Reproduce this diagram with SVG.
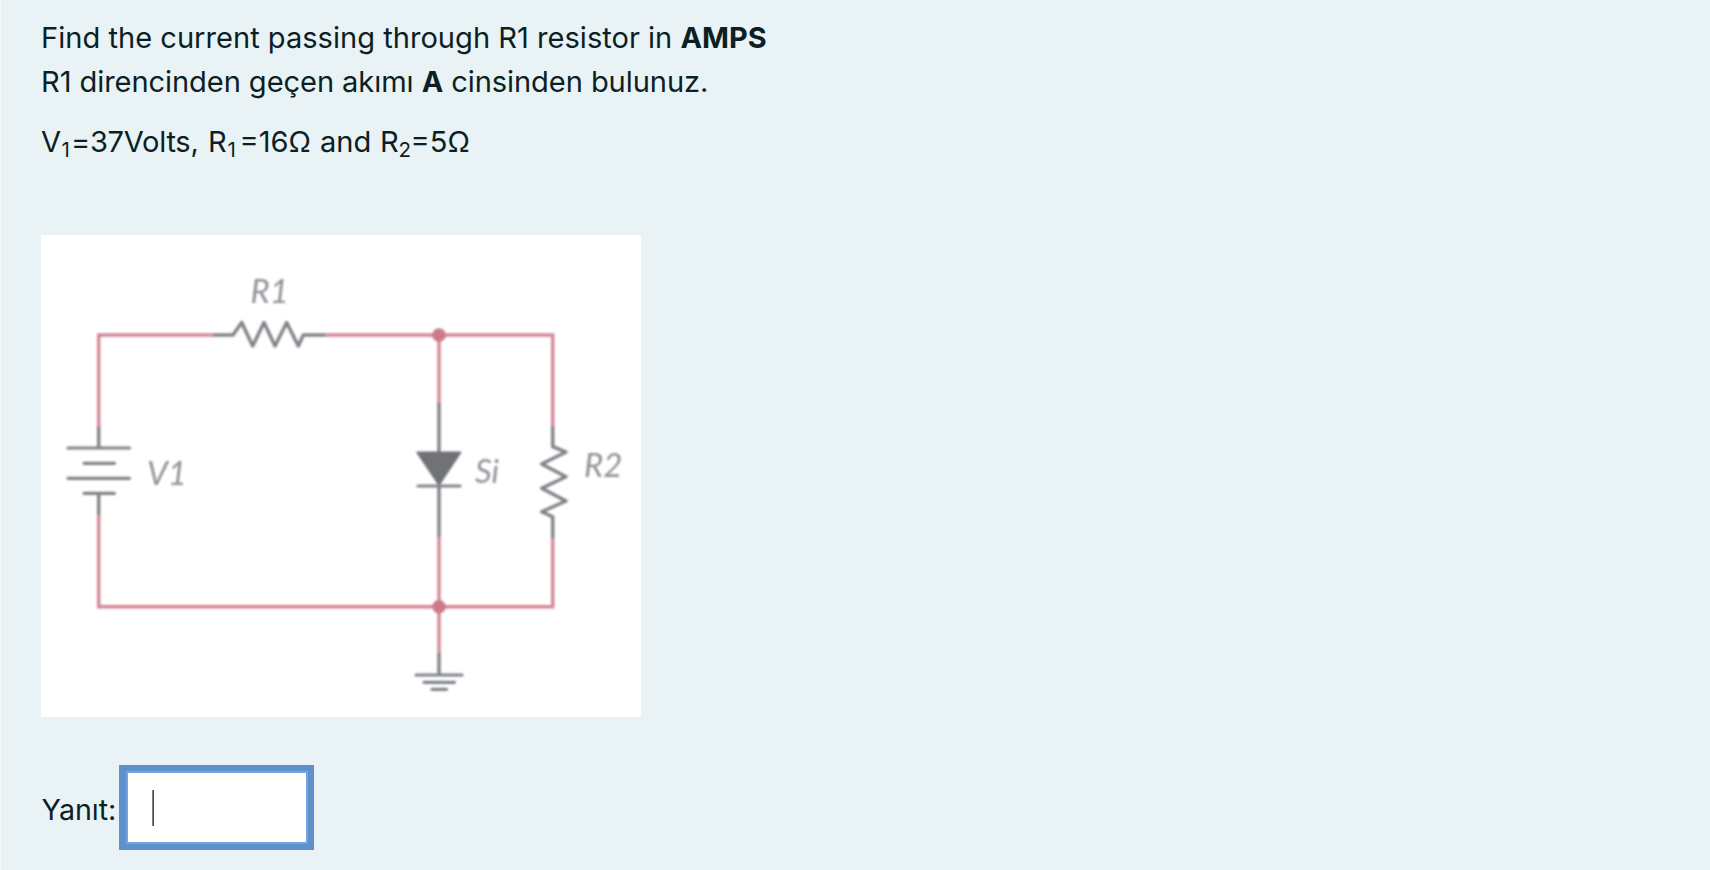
<svg xmlns="http://www.w3.org/2000/svg" width="1710" height="870" viewBox="0 0 1710 870">
<defs>
<style>
.t{font-family:Inter,"Noto Sans","Liberation Sans",sans-serif;font-size:29.1px;fill:#0c1f24}
.b{font-weight:700;font-size:28.9px}
.s{font-size:20.5px}
.l{font-family:Lato,"Open Sans","Liberation Sans",sans-serif;font-style:italic;font-size:33px;fill:#8f9298}
.w{fill:none;stroke:#d48794;stroke-width:3.4}
.g{fill:none;stroke:#7f8288;stroke-width:3.4;stroke-linejoin:round}
.p{fill:none;stroke:#7f8288;stroke-width:3.2;stroke-linecap:round}
.j{fill:#cc7a8a}
</style>
<filter id="soft" x="-5%" y="-5%" width="110%" height="110%"><feGaussianBlur stdDeviation="0.85"/></filter>
</defs>
<rect width="1710" height="870" fill="#e9f2f5"/>
<rect width="1" height="870" fill="#f4f8fa"/>
<g id="question">
<text class="t" x="41" y="48">Find the current passing through R1 resistor in <tspan class="b">AMPS</tspan></text>
<text class="t" x="41" y="92" letter-spacing="-0.09">R1 direncinden geçen akımı <tspan class="b">A</tspan> cinsinden bulunuz.</text>
<text class="t" x="41" y="152">V<tspan class="s" x="61.5" dy="5">1</tspan><tspan x="71" dy="-5" letter-spacing="-0.3">=37Volts,</tspan><tspan x="208">R</tspan><tspan class="s" x="227.5" dy="5">1</tspan><tspan x="239.5" dy="-5">=16Ω</tspan><tspan x="320">and</tspan><tspan x="380">R</tspan><tspan class="s" x="398.5" dy="5">2</tspan><tspan x="410.5" dy="-5">=5Ω</tspan></text>
</g>
<rect x="41" y="235" width="600" height="482" fill="#ffffff"/>
<g filter="url(#soft)">
<g id="connectors">
<path class="w" d="M212.7 335H98.7V427"/>
<path class="w" d="M98.7 515V606.7H552.7V538"/>
<path class="w" d="M325 335H552.7V426"/>
<path class="w" d="M439 335V405"/>
<path class="w" d="M439 537V653"/>
</g>
<g id="R1">
<path class="g" d="M212.7 335H233L241.7 322.5L252.7 346L264 322.5L275 346L286.7 322.5L298.3 346L303.3 335H325"/>
<text class="l" x="250.5" y="303">R1</text>
</g>
<g id="V1">
<path class="g" d="M98.7 426.7V448M98.7 493V515"/>
<path class="p" d="M68 448H129.5M84 463.3H114.5M68 478.3H129.5M84 493.3H114.5"/>
<text class="l" x="147" y="485">V1</text>
</g>
<g id="Si">
<path class="g" d="M439 403V452M439 486V537.3"/>
<path d="M417 452.3H460.7L439 485Z" fill="#6f7278" stroke="#6f7278" stroke-width="1.5" stroke-linejoin="round"/>
<path class="p" d="M418 486H460"/>
<text class="l" x="475" y="482.5">Si</text>
</g>
<g id="R2">
<path class="g" d="M552.7 426V446.7L566 452L541.7 464L566 476.7L541.7 488.3L566 501L541.7 511.7L552.7 516.7V538"/>
<text class="l" x="584" y="477">R2</text>
</g>
<g id="J1"><circle class="j" cx="439" cy="335" r="6.8"/></g>
<g id="J2"><circle class="j" cx="439" cy="606.7" r="6.8"/></g>
<g id="GND">
<path class="g" d="M439 653V675"/>
<path class="p" d="M416 675H462M424 682.3H454.5M432 689.3H446.5"/>
</g>
</g>
<g id="answer">
<text class="t" x="41.5" y="820" style="font-size:28.6px">Yanıt:</text>
<rect x="119" y="765" width="195" height="85" fill="#6090cc"/>
<rect x="126" y="771" width="182" height="73" fill="#6fa4e6"/>
<rect x="128" y="773" width="178" height="69" fill="#ffffff"/>
<rect x="152.3" y="790" width="1.7" height="36" fill="#4a4a4a"/>
</g>
</svg>
